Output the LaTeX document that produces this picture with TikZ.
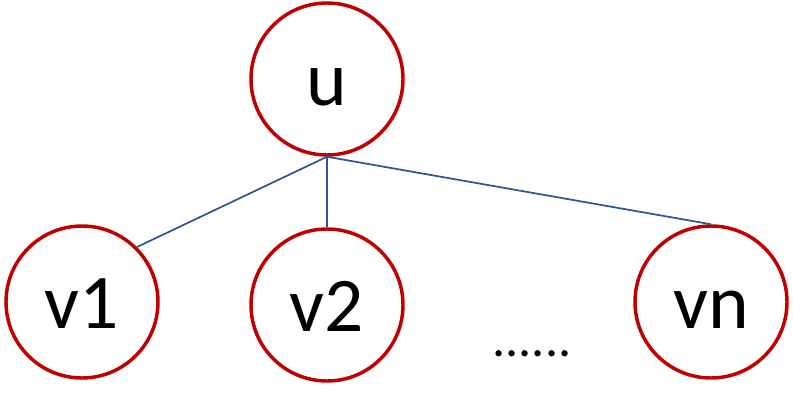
\documentclass[tikz,border=0pt]{standalone}
\usepackage{fontspec}
\setmainfont{Carlito}
\usepackage{tikz}

\definecolor{ringred}{RGB}{192,0,0}
\definecolor{edgeblue}{RGB}{47,85,151}

\begin{document}
\begin{tikzpicture}[x=0.75pt,y=-0.75pt,
  vert/.style={circle,draw=ringred,line width=2.6pt,minimum size=114pt,inner sep=0pt,
    font=\fontsize{58}{70}\selectfont,text height=45pt,text depth=6pt},
  edge/.style={draw=edgeblue,line width=1.3pt}]
\useasboundingbox (0,0) rectangle (793,407);

\node[vert] (u) at (327,79) {u};
\node[vert] (v1) at (82,302) {v1};
\node[vert] (v2) at (327,305) {v2};
\node[vert] (vn) at (711,302) {vn};
\node[anchor=base,inner sep=0pt,font=\fontsize{39}{47}\selectfont] (dots) at (532,356) {......};

\draw[edge] (u.south) -- (v1.45);
\draw[edge] (u.south) -- (v2.north);
\draw[edge] (u.south) -- (vn.north);
\end{tikzpicture}
\end{document}
